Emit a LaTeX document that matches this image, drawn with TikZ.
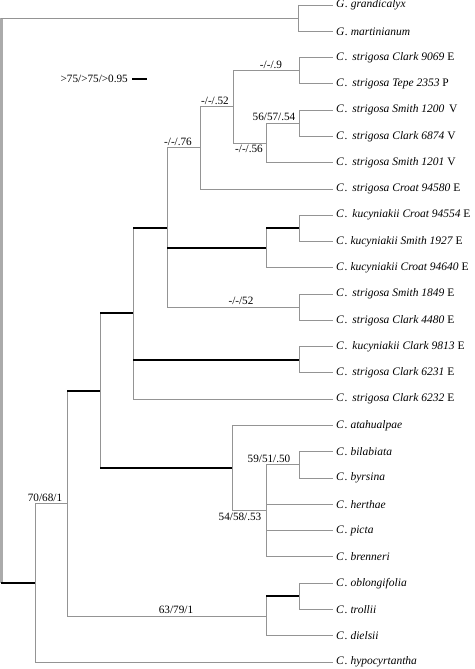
\documentclass[tikz,border=0pt]{standalone}
\usepackage{fontspec}
\setmainfont{Liberation Serif}
\newcommand{\genC}{C\kern0.9pt.}
\newcommand{\genG}{G\kern0.5pt.}
\begin{document}
\begin{tikzpicture}[x=1pt,y=-1pt,
  br/.style={draw=black!42, line width=0.9pt},
  sup/.style={draw=black, line width=2pt},
  rootline/.style={draw=black!33, line width=2.6pt},
  leaf/.style={anchor=west, inner sep=3pt, font=\fontsize{11.5}{13}\selectfont\itshape},
  lab/.style={inner sep=1pt, font=\fontsize{11.2}{13}\selectfont}]
\useasboundingbox (0,0) rectangle (474,669);

% leaves
\node[leaf] (l0)  at (333,5.0)   {\genG\ grandicalyx};
\node[leaf] (l1)  at (333,31.3)  {\genG\ martinianum};
\node[leaf] (l2)  at (333,57.6)  {\genC\,\ strigosa Clark 9069 {\upshape E}};
\node[leaf] (l3)  at (333,83.8)  {\genC\,\ strigosa Tepe 2353 {\upshape P}};
\node[leaf] (l4)  at (333,110.1) {\genC\,\ strigosa Smith 1200 \,{\upshape V}};
\node[leaf] (l5)  at (333,136.4) {\genC\,\ strigosa Clark 6874 {\upshape V}};
\node[leaf] (l6)  at (333,162.7) {\genC\,\ strigosa Smith 1201 {\upshape V}};
\node[leaf] (l7)  at (333,189.0) {\genC\,\ strigosa Croat 94580 {\upshape E}};
\node[leaf] (l8)  at (333,215.2) {\genC\,\ kucyniakii Croat 94554 {\upshape E}};
\node[leaf] (l9)  at (333,241.5) {\genC\ kucyniakii Smith 1927 {\upshape E}};
\node[leaf] (l10) at (333,267.8) {\genC\ kucyniakii Croat 94640 {\upshape E}};
\node[leaf] (l11) at (333,294.1) {\genC\,\ strigosa Smith 1849 {\upshape E}};
\node[leaf] (l12) at (333,320.4) {\genC\,\ strigosa Clark 4480 {\upshape E}};
\node[leaf] (l13) at (333,346.6) {\genC\,\ kucyniakii Clark 9813 {\upshape E}};
\node[leaf] (l14) at (333,372.9) {\genC\,\ strigosa Clark 6231 {\upshape E}};
\node[leaf] (l15) at (333,399.2) {\genC\,\ strigosa Clark 6232 {\upshape E}};
\node[leaf] (l16) at (333,425.5) {\genC\ atahualpae};
\node[leaf] (l17) at (333,451.8) {\genC\ bilabiata};
\node[leaf] (l18) at (333,478.0) {\genC\ byrsina};
\node[leaf] (l19) at (333,504.3) {\genC\ herthae};
\node[leaf] (l20) at (333,530.6) {\genC\ picta};
\node[leaf] (l21) at (333,556.9) {\genC\ brenneri};
\node[leaf] (l22) at (333,583.2) {\genC\ oblongifolia};
\node[leaf] (l23) at (333,609.4) {\genC\ trollii};
\node[leaf] (l24) at (333,635.7) {\genC\ dielsii};
\node[leaf] (l25) at (333,662.0) {\genC\ hypocyrtantha};

% internal nodes
\coordinate (nG)    at (298,18.2);
\coordinate (n9069) at (299,70.7);
\coordinate (n1200) at (299,123.2);
\coordinate (n56)   at (266,143.0);
\coordinate (n52)   at (233,106.8);
\coordinate (n76)   at (200,147.9);
\coordinate (nk1)   at (299,228.4);
\coordinate (nk2)   at (266,248.1);
\coordinate (n1849) at (299,307.2);
\coordinate (nA)    at (167,227.5);
\coordinate (n9813) at (299,359.8);
\coordinate (nB)    at (133,313.4);
\coordinate (nbil)  at (299,464.9);
\coordinate (nher)  at (266,510.9);
\coordinate (nata)  at (232,468.2);
\coordinate (nC)    at (100,390.8);
\coordinate (nobl)  at (299,596.3);
\coordinate (ndie)  at (266,616.0);
\coordinate (nD)    at (67,503.4);
\coordinate (nE)    at (35,582.7);
\coordinate (root)  at (1.3,18.2);

% verticals
\draw[br] (nG |- l0.west) -- (nG |- l1.west);
\draw[br] (n9069 |- l2.west) -- (n9069 |- l3.west);
\draw[br] (n1200 |- l4.west) -- (n1200 |- l5.west);
\draw[br] (n56 |- n1200) -- (n56 |- l6.west);
\draw[br] (n52 |- n9069) -- (n52 |- n56);
\draw[br] (n76 |- n52) -- (n76 |- l7.west);
\draw[br] (nk1 |- l8.west) -- (nk1 |- l9.west);
\draw[br] (nk2 |- nk1) -- (nk2 |- l10.west);
\draw[br] (n1849 |- l11.west) -- (n1849 |- l12.west);
\draw[br] (nA |- n76) -- (nA |- n1849);
\draw[br] (n9813 |- l13.west) -- (n9813 |- l14.west);
\draw[br] (nB |- nA) -- (nB |- l15.west);
\draw[br] (nbil |- l17.west) -- (nbil |- l18.west);
\draw[br] (nher |- nbil) -- (nher |- l21.west);
\draw[br] (nata |- l16.west) -- (nata |- nher);
\draw[br] (nC |- nB) -- (nC |- nata);
\draw[br] (nobl |- l22.west) -- (nobl |- l23.west);
\draw[br] (ndie |- nobl) -- (ndie |- l24.west);
\draw[br] (nD |- nC) -- (nD |- ndie);
\draw[br] (nE |- nD) -- (nE |- l25.west);
\draw[rootline] (root) -- (root |- nE);

% horizontals (normal)
\draw[br] (root) -- (nG);
\draw[br] (nG |- l0.west) -- (l0.west);
\draw[br] (nG |- l1.west) -- (l1.west);
\draw[br] (n52 |- n9069) -- (n9069);
\draw[br] (n9069 |- l2.west) -- (l2.west);
\draw[br] (n9069 |- l3.west) -- (l3.west);
\draw[br] (n56 |- n1200) -- (n1200);
\draw[br] (n1200 |- l4.west) -- (l4.west);
\draw[br] (n1200 |- l5.west) -- (l5.west);
\draw[br] (n56 |- l6.west) -- (l6.west);
\draw[br] (n52 |- n56) -- (n56);
\draw[br] (n76 |- n52) -- (n52);
\draw[br] (n76 |- l7.west) -- (l7.west);
\draw[br] (nA |- n76) -- (n76);
\draw[br] (nk1 |- l8.west) -- (l8.west);
\draw[br] (nk1 |- l9.west) -- (l9.west);
\draw[br] (nk2 |- l10.west) -- (l10.west);
\draw[br] (nA |- n1849) -- (n1849);
\draw[br] (n1849 |- l11.west) -- (l11.west);
\draw[br] (n1849 |- l12.west) -- (l12.west);
\draw[br] (n9813 |- l13.west) -- (l13.west);
\draw[br] (n9813 |- l14.west) -- (l14.west);
\draw[br] (nB |- l15.west) -- (l15.west);
\draw[br] (nata |- l16.west) -- (l16.west);
\draw[br] (nher |- nbil) -- (nbil);
\draw[br] (nbil |- l17.west) -- (l17.west);
\draw[br] (nbil |- l18.west) -- (l18.west);
\draw[br] (nher |- l19.west) -- (l19.west);
\draw[br] (nher |- l20.west) -- (l20.west);
\draw[br] (nher |- l21.west) -- (l21.west);
\draw[br] (nata |- nher) -- (nher);
\draw[br] (nobl |- l22.west) -- (l22.west);
\draw[br] (nobl |- l23.west) -- (l23.west);
\draw[br] (ndie |- l24.west) -- (l24.west);
\draw[br] (nD |- ndie) -- (ndie);
\draw[br] (nE |- nD) -- (nD);
\draw[br] (nE |- l25.west) -- (l25.west);

% horizontals (supported, thick)
\draw[sup] (root |- nE) -- (nE);
\draw[sup] (nD |- nC) -- (nC);
\draw[sup] (nC |- nB) -- (nB);
\draw[sup] (nB |- nA) -- (nA);
\draw[sup] (nA |- nk2) -- (nk2);
\draw[sup] (nk2 |- nk1) -- (nk1);
\draw[sup] (nB |- n9813) -- (n9813);
\draw[sup] (nC |- nata) -- (nata);
\draw[sup] (ndie |- nobl) -- (nobl);

% support labels
\node[lab, anchor=south] (s1)  at (271,69.7)  {-/-/.9};
\node[lab, anchor=south] (s2)  at (215,105.8) {-/-/.52};
\node[lab, anchor=south] (s3)  at (274,122.2) {56/57/.54};
\node[lab, anchor=north] (s4)  at (249,144.0) {-/-/.56};
\node[lab, anchor=south] (s5)  at (178,146.9) {-/-/.76};
\node[lab, anchor=south] (s6)  at (241,306.2) {-/-/52};
\node[lab, anchor=south] (s7)  at (269,463.9) {59/51/.50};
\node[lab, anchor=north] (s8)  at (240,511.9) {54/58/.53};
\node[lab, anchor=south] (s9)  at (176,615.0) {63/79/1};
\node[lab, anchor=south] (s10) at (45,502.4)  {70/68/1};

% legend
\node[lab, anchor=east] (leg) at (129,79) {>75/>75/>0.95};
\coordinate (legend end) at (147,79);
\draw[sup] ([xshift=3pt]leg.east) -- (legend end);
\end{tikzpicture}
\end{document}
